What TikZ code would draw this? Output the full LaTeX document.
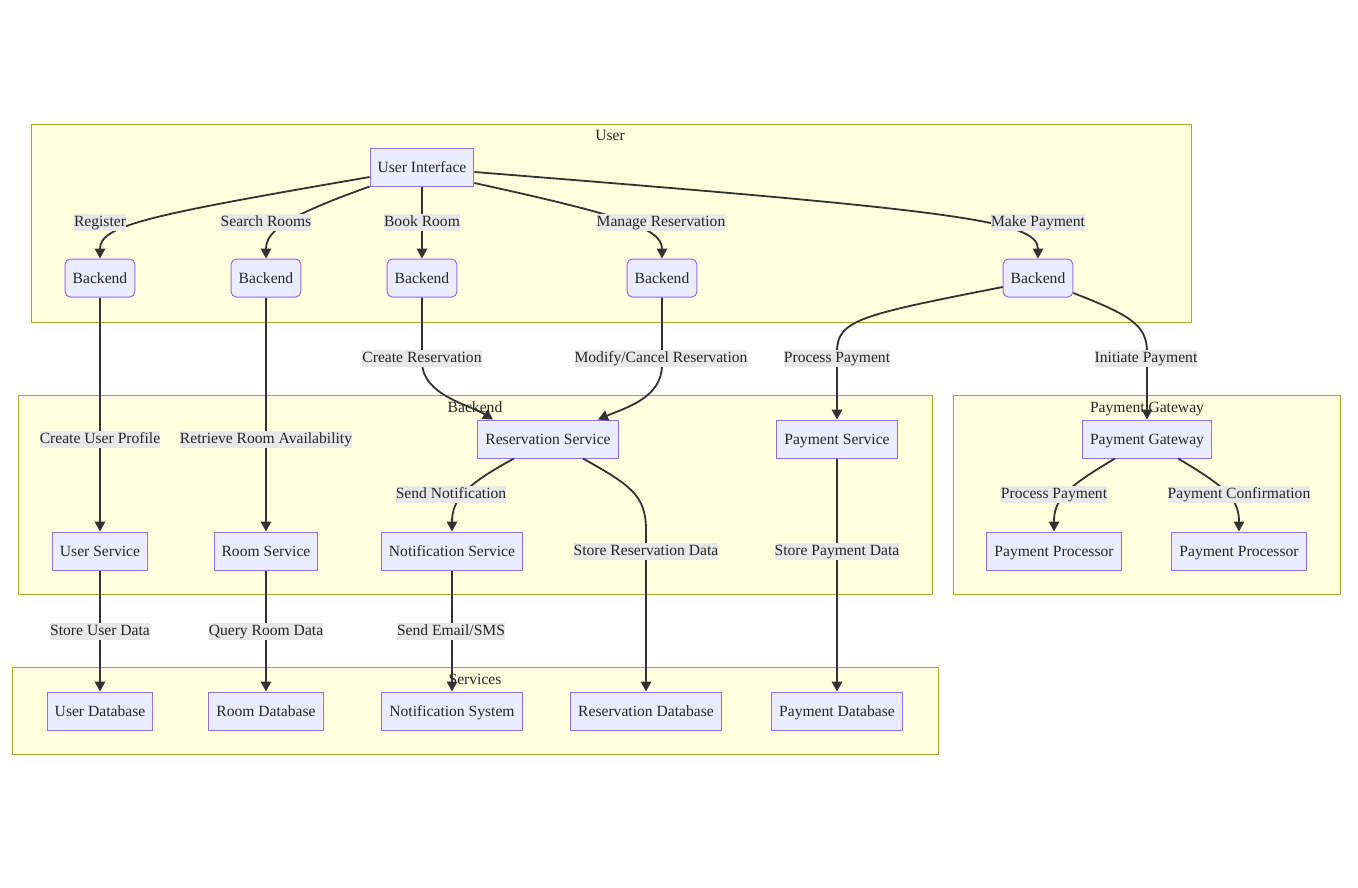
\documentclass[tikz,border=0pt]{standalone}
\usepackage{fontspec}
\setmainfont{Liberation Serif}
\usetikzlibrary{arrows.meta}
\definecolor{clfill}{HTML}{FFFFDE}
\definecolor{cldraw}{HTML}{AAAA33}
\definecolor{ndfill}{HTML}{ECECFF}
\definecolor{nddraw}{HTML}{9370DB}
\definecolor{lblbg}{HTML}{E8E8E8}
\definecolor{edgec}{HTML}{333333}
\tikzset{
  cluster/.style={draw=cldraw, fill=clfill, line width=1pt},
  cltitle/.style={font=\fontsize{15.6}{18}\selectfont, text=black!85, inner sep=0pt, anchor=center,
    text height=12pt, text depth=1pt},
  box/.style={draw=nddraw, fill=ndfill, line width=1pt, minimum height=38pt, inner xsep=7.5pt,
    text height=12pt, text depth=1pt,
    font=\fontsize{15.6}{18}\selectfont, text=black!85},
  rbox/.style={box, rounded corners=5pt},
  edge/.style={draw=edgec, line width=1.8pt, -{Triangle[length=10pt,width=10.5pt]}},
  elabel/.style={fill=lblbg, inner xsep=0pt, inner ysep=0.5pt, text height=12pt, text depth=4pt,
    font=\fontsize{15.6}{18}\selectfont, text=black!85}
}
\begin{document}
\begin{tikzpicture}[x=1pt,y=-1pt]
\useasboundingbox (0,0) rectangle (1358,887);
\fill[white] (0,0) rectangle (1358,887);
% clusters
\draw[cluster] (31,124) rectangle (1191,322);
\draw[cluster] (18,395) rectangle (932,594);
\draw[cluster] (953,395) rectangle (1340,594);
\draw[cluster] (12,667) rectangle (938,754);
\node[cltitle] (tUser) at (610,135) {User};
\node[cltitle] (tBackend) at (475,407) {Backend};
\node[cltitle] (tPG) at (1147,407) {Payment Gateway};
\node[cltitle] (tServices) at (475,679) {Services};
% nodes
\node[box] (ui) at (422,167) {User Interface};
\node[rbox] (b1) at (100,278) {Backend};
\node[rbox] (b2) at (266,278) {Backend};
\node[rbox] (b3) at (422,278) {Backend};
\node[rbox] (b4) at (662,278) {Backend};
\node[rbox] (b5) at (1038,278) {Backend};
\node[box] (ress) at (548,439) {Reservation Service};
\node[box] (pays) at (837,439) {Payment Service};
\node[box] (pg) at (1147,439) {Payment Gateway};
\node[box] (us) at (100,551) {User Service};
\node[box] (rs) at (266,551) {Room Service};
\node[box] (ns) at (452,551) {Notification Service};
\node[box] (pp1) at (1054,551) {Payment Processor};
\node[box] (pp2) at (1239,551) {Payment Processor};
\node[box] (udb) at (100,711) {User Database};
\node[box] (rdb) at (266,711) {Room Database};
\node[box] (nsys) at (452,711) {Notification System};
\node[box] (resdb) at (646,711) {Reservation Database};
\node[box] (paydb) at (837,711) {Payment Database};
% edges
\draw[edge] ([yshift=-10pt]ui.west) .. controls (150,215) and (100,225) .. (b1.north);
\draw[edge] (ui.south west) .. controls (290,215) and (266,230) .. (b2.north);
\draw[edge] (ui) -- (b3);
\draw[edge] ([yshift=-16pt]ui.east) .. controls (620,215) and (662,228) .. (b4.north);
\draw[edge] ([yshift=-5pt]ui.east) .. controls (950,210) and (1038,220) .. (b5.north);
\draw[edge] (b1) -- (us);
\draw[edge] (b2) -- (rs);
\draw[edge] (b3.south) -- (422,362) .. controls (422,395) and (470,405) .. ([xshift=-55pt]ress.north);
\draw[edge] (b4.south) -- (662,365) .. controls (662,398) and (625,408) .. ([xshift=50pt]ress.north);
\draw[edge] ([yshift=-9pt]b5.west) .. controls (860,315) and (837,320) .. (837,352) -- (pays.north);
\draw[edge] ([yshift=-15pt]b5.east) .. controls (1130,315) and (1147,325) .. (1147,352) -- (pg.north);
\draw[edge] ([xshift=-34pt]ress.south) .. controls (465,485) and (452,500) .. (ns.north);
\draw[edge] ([xshift=35pt]ress.south) .. controls (630,485) and (646,495) .. (646,530) -- (resdb.north);
\draw[edge] (pays) -- (paydb);
\draw[edge] ([xshift=-32pt]pg.south) .. controls (1065,488) and (1054,500) .. (pp1.north);
\draw[edge] ([xshift=31pt]pg.south) .. controls (1228,488) and (1239,500) .. (pp2.north);
\draw[edge] (us) -- (udb);
\draw[edge] (rs) -- (rdb);
\draw[edge] (ns) -- (nsys);
% edge labels
\node[elabel] (l1) at (100,222) {Register};
\node[elabel] (l2) at (266,222) {Search Rooms};
\node[elabel] (l3) at (422,222) {Book Room};
\node[elabel] (l4) at (661,222) {Manage Reservation};
\node[elabel] (l5) at (1038,222) {Make Payment};
\node[elabel] (l6) at (100,439) {Create User Profile};
\node[elabel] (l7) at (266,439) {Retrieve Room Availability};
\node[elabel] (l8) at (422,358) {Create Reservation};
\node[elabel] (l9) at (661,358) {Modify/Cancel Reservation};
\node[elabel] (l10) at (837,358) {Process Payment};
\node[elabel] (l11) at (1146,358) {Initiate Payment};
\node[elabel] (l12) at (451,494) {Send Notification};
\node[elabel] (l13) at (646,551) {Store Reservation Data};
\node[elabel] (l14) at (837,551) {Store Payment Data};
\node[elabel] (l15) at (1054,494) {Process Payment};
\node[elabel] (l16) at (1239,494) {Payment Confirmation};
\node[elabel] (l17) at (100,631) {Store User Data};
\node[elabel] (l18) at (266,631) {Query Room Data};
\node[elabel] (l19) at (451,631) {Send Email/SMS};
\end{tikzpicture}
\end{document}
